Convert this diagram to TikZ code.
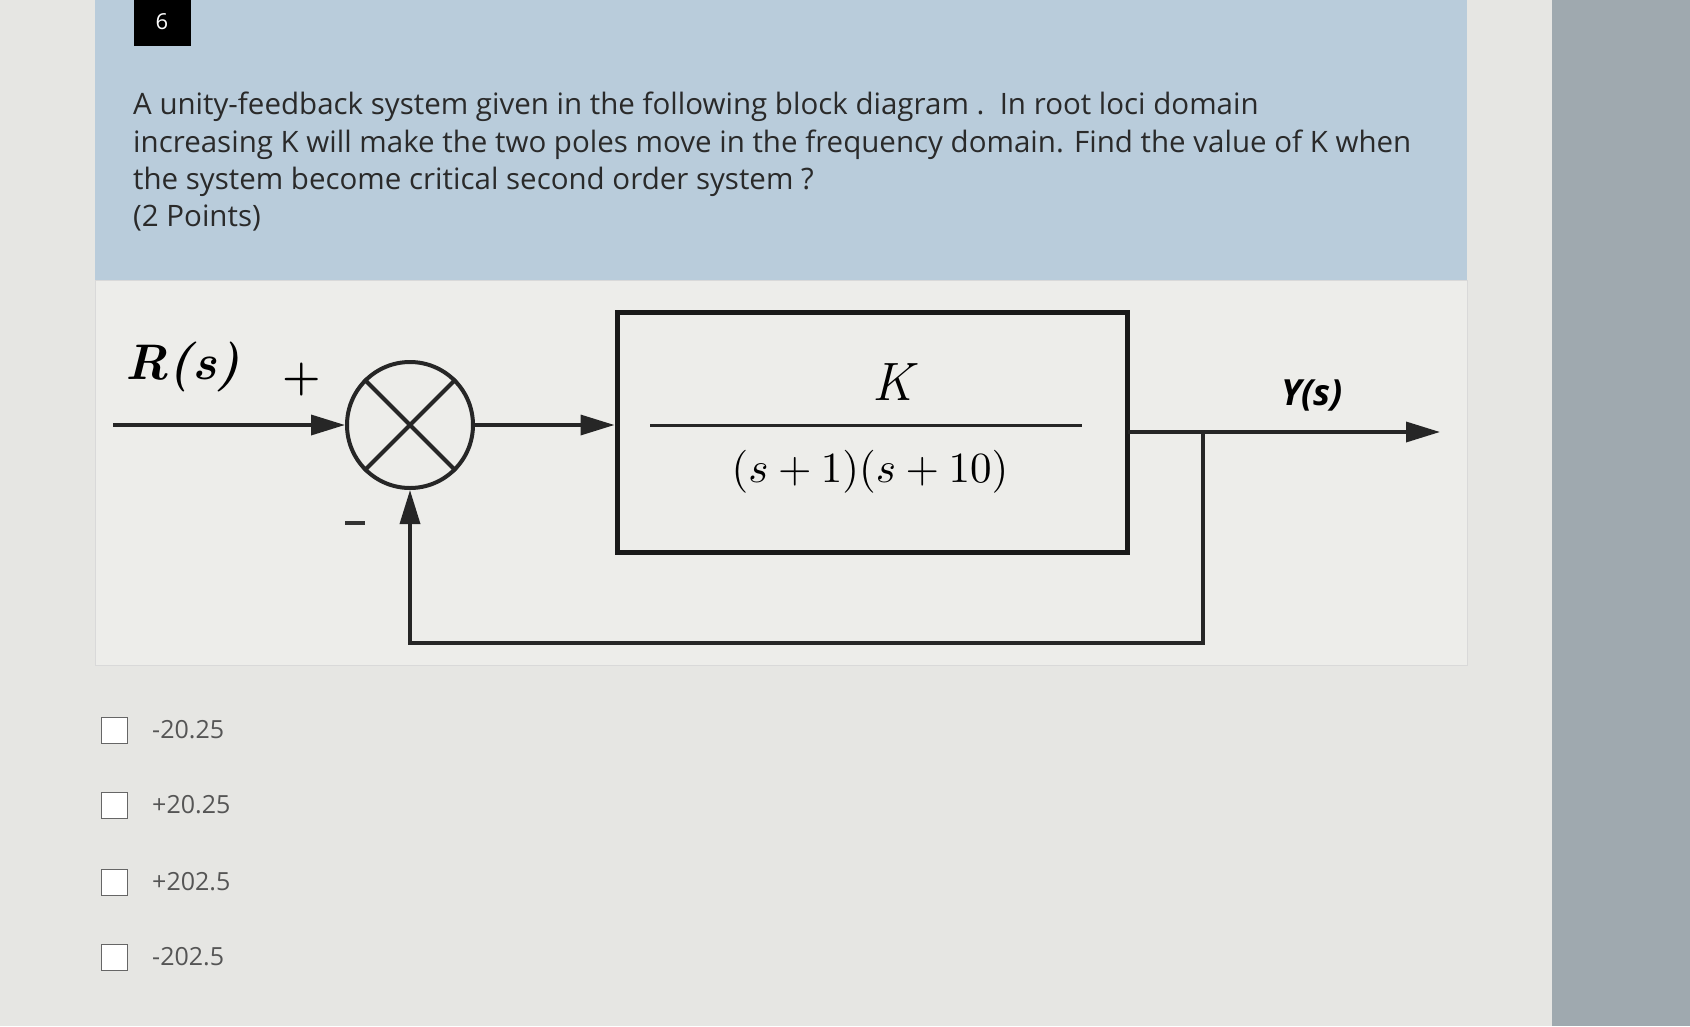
\documentclass[tikz,border=0pt]{standalone}
\usepackage{fontspec}
\setmainfont{Open Sans}
\newfontfamily\serifm{Latin Modern Roman}
\usetikzlibrary{arrows.meta}
\definecolor{bg}{HTML}{E6E6E3}
\definecolor{hdr}{HTML}{B9CCDB}
\definecolor{pan}{HTML}{EDEDEA}
\definecolor{strip}{HTML}{9FA9AF}
\definecolor{txt}{HTML}{2A2A2A}
\tikzset{
 wire/.style={line width=3.5pt,draw=black!85},
 arr/.style={wire,-{Triangle[length=34pt,width=20pt]}},
 qtext/.style={anchor=west,font=\fontsize{29.5}{32}\selectfont,text=txt,inner sep=0},
 opt/.style={anchor=west,font=\fontsize{25}{28}\selectfont,text=txt!80,inner sep=0},
 cbox/.style={draw=black!60,line width=1pt,fill=white,minimum size=26pt,inner sep=0}
}
\begin{document}
\begin{tikzpicture}[x=1pt,y=-1pt]
\useasboundingbox (0,0) rectangle (1690,1026);
\fill[bg] (0,0) rectangle (1690,1026);
\fill[strip] (1552,0) rectangle (1690,1026);
\fill[hdr] (95,0) rectangle (1467,285);
\fill[pan] (95,280) rectangle (1467,665);
\draw[black!15] (95,280) rectangle (1467,665);
\node[fill=black,minimum width=57pt,minimum height=47pt,text=white,font=\fontsize{22}{24}\selectfont] (num) at (162,22) {6};
\node[qtext] (l1) at (133,107) {A unity-feedback system given in the following block diagram .\ \ In root loci domain};
\node[qtext] (l2) at (133,145) {increasing K will make the two poles move in the frequency domain. Find the value of K when};
\node[qtext] (l3) at (133,182) {the system become critical second order system ?};
\node[qtext] (l4) at (133,218) {(2 Points)};
% diagram
\node[font=\serifm\bfseries\itshape\fontsize{50}{54}\selectfont] (R) at (183,367) {R(s)};
\node[font=\serifm\bfseries\fontsize{44}{44}\selectfont] (plus) at (302,380) {+};
\node[circle,draw=black!85,line width=4pt,minimum size=126pt,inner sep=0] (sum) at (410,425) {};
\draw[line width=4pt,black!85] (sum.45)--(sum.225) (sum.135)--(sum.-45);
\node[inner sep=0] (minus) at (355,523) {\tikz\draw[line width=4pt,black!80] (0,0)--(20pt,0);};
\coordinate (in) at (113,425);
\draw[arr] (in) -- (sum.west);
\node[draw=black!90,line width=5pt,minimum width=510pt,minimum height=240pt,inner sep=0] (G) at (872,432) {};
\draw[arr] (sum.east) -- (G.west |- sum.east);
\node[font=\serifm\itshape\fontsize{54}{54}\selectfont] (K) at (893,382) {K};
\draw[line width=3pt,black!85] (650,425) -- (1082,425);
\node (den) at (870,472) {\scalebox{4.3}{$(s+1)(s+10)$}};
\coordinate (o1) at (1128,432);
\coordinate (br) at (1203,432);
\coordinate (out) at (1440,432);
\draw[arr] (o1) -- (out);
\node[font=\bfseries\itshape\fontsize{36}{36}\selectfont] (Y) at (1312,395) {Y(s)};
\coordinate (b1) at (1203,643);
\coordinate (b2) at (410,643);
\draw[arr] (br) -- (b1) -- (b2) -- (sum.south);
% options
\node[cbox] (c1) at (114,730) {}; \node[opt] (t1) at (152,730) {-20.25};
\node[cbox] (c2) at (114,805) {}; \node[opt] (t2) at (152,805) {+20.25};
\node[cbox] (c3) at (114,882) {}; \node[opt] (t3) at (152,882) {+202.5};
\node[cbox] (c4) at (114,957) {}; \node[opt] (t4) at (152,957) {-202.5};
\end{tikzpicture}
\end{document}
